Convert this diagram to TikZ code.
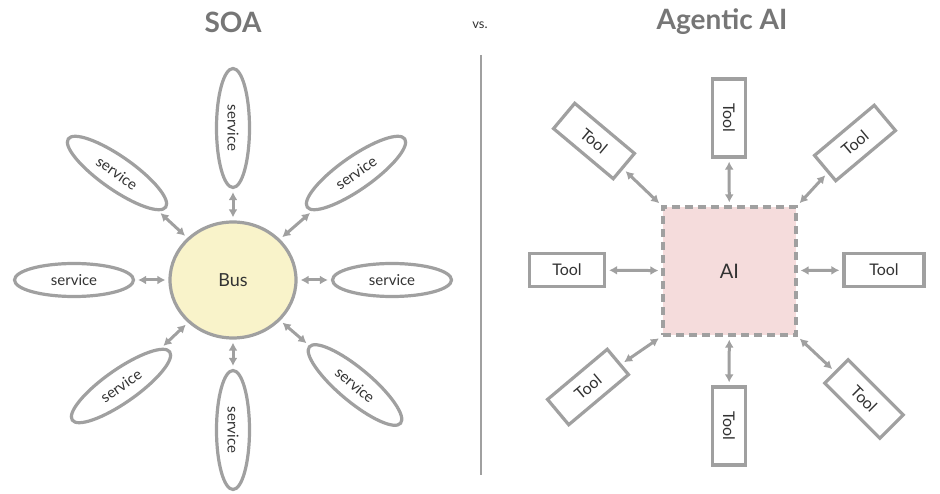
\documentclass[tikz,border=0pt]{standalone}
\usepackage{fontspec}
\setmainfont{Lato}
\usetikzlibrary{shapes.geometric,arrows.meta}
\definecolor{g}{HTML}{A0A0A0}
\definecolor{tg}{HTML}{767676}
\definecolor{tx}{HTML}{333333}
\begin{document}
\begin{tikzpicture}[x=1pt,y=-1pt,
  svc/.style={ellipse,draw=g,line width=3.2pt,fill=white,text=tx,minimum width=119pt,minimum height=33pt,inner sep=0pt,font=\fontsize{15}{17}\selectfont},
  tool/.style={rectangle,draw=g,line width=3.2pt,fill=white,text=tx,minimum width=78pt,minimum height=33pt,inner sep=0pt,font=\fontsize{16}{18}\selectfont},
  con/.style={draw=g,line width=3pt,{Latex[length=8pt,width=9pt]}-{Latex[length=8pt,width=9pt]},shorten <=3pt,shorten >=3pt},
  ttl/.style={text=tg,font=\bfseries\fontsize{28}{32}\selectfont}]
\useasboundingbox (0,0) rectangle (940,494);
\node[ttl] (t1) at (233,22) {SOA};
\node[text=tx,font=\fontsize{13}{15}\selectfont] (vs) at (480,25) {vs.};
\node[ttl] (t2) at (722,22) {Agentic AI};
\coordinate (l1) at (481,55); \coordinate (l2) at (481,475);
\draw[g,line width=2.4pt] (l1) -- (l2);
% SOA
\node[ellipse,draw=g,line width=3.2pt,fill={rgb,255:red,249;green,243;blue,202},text=tx,minimum width=126pt,minimum height=116pt,font=\fontsize{18}{20}\selectfont] (bus) at (233,280) {Bus};
\node[svc,rotate=-90] (s1) at (233,128) {service};
\node[svc,rotate=-90] (s2) at (233,430) {service};
\node[svc] (s3) at (74,280) {service};
\node[svc] (s4) at (392,280) {service};
\node[svc,rotate=-35] (s5) at (117,173) {service};
\node[svc,rotate=35] (s6) at (356,173) {service};
\node[svc,rotate=35] (s7) at (121,386) {service};
\node[svc,rotate=-40] (s8) at (355,385) {service};
\foreach \s in {s1,s2,s3,s4,s5,s6,s7,s8} \draw[con] (bus) -- (\s);
% Agentic
\node[rectangle,draw=g,dash pattern=on 8pt off 5pt,line width=3.2pt,fill={rgb,255:red,245;green,220;blue,220},text=tx,minimum width=133pt,minimum height=128pt,font=\fontsize{20}{22}\selectfont] (ai) at (729.5,271) {AI};
\node[tool,rotate=-90] (a1) at (729,118) {Tool};
\node[tool,rotate=-90] (a2) at (729,426) {Tool};
\node[tool,minimum width=75pt] (a3) at (567,270) {Tool};
\node[tool,minimum width=80pt] (a4) at (884,270) {Tool};
\node[tool,rotate=-40] (a5) at (594,141) {Tool};
\node[tool,rotate=40] (a6) at (855,143) {Tool};
\node[tool,rotate=40] (a7) at (588,387) {Tool};
\node[tool,rotate=-45] (a8) at (864,399) {Tool};
\draw[con] (ai) -- (a1);
\draw[con] (ai) -- (a2);
\draw[con] (ai) -- (a3);
\draw[con] (ai) -- (a4);
\draw[con] (ai.north west) -- (a5);
\draw[con] (ai.north east) -- (a6);
\draw[con] (ai.south west) -- (a7);
\draw[con] (ai.south east) -- (a8);
\end{tikzpicture}
\end{document}
